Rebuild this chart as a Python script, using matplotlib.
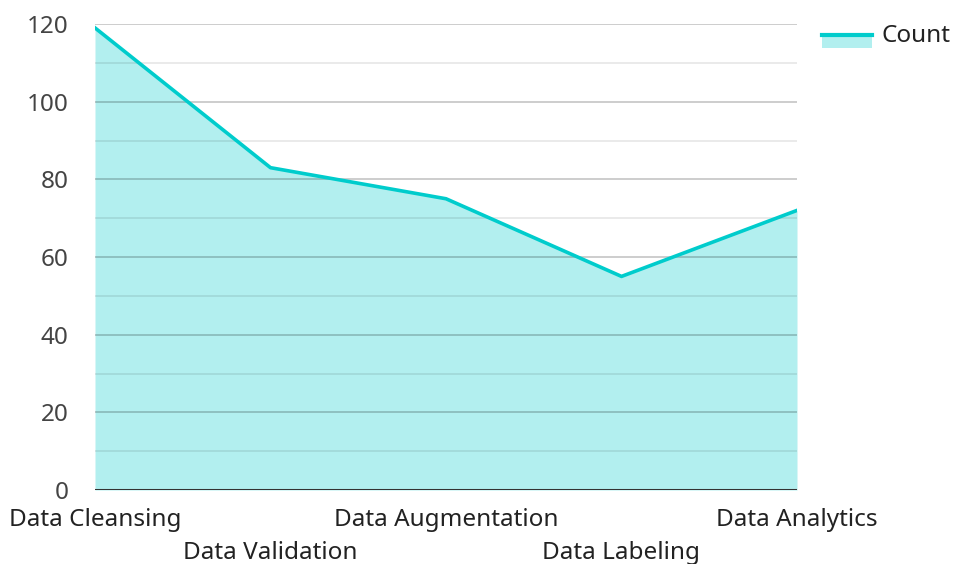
import matplotlib
matplotlib.use("Agg")
import matplotlib.pyplot as plt
from matplotlib.patches import Rectangle
from matplotlib.lines import Line2D

categories = ["Data Cleansing", "Data Validation", "Data Augmentation",
              "Data Labeling", "Data Analytics"]
counts = [119, 83, 75, 55, 72]
yticks = [0, 20, 40, 60, 80, 100, 120]

LINE_C, FILL_C = "#00cccc", "#b2efef"

plt.rcParams.update({"font.family": ["Noto Sans", "DejaVu Sans"], "font.size": 17.5})
fig = plt.figure(figsize=(9.54, 5.64), dpi=100)
ax = fig.add_axes([95 / 954, 74 / 564, 702 / 954, 466 / 564])

x = list(range(len(categories)))
ax.fill_between(x, counts, 0, color=FILL_C, lw=0, zorder=1)
ax.plot(x, counts, color=LINE_C, lw=2.6, zorder=3)

# grid: major every 20, minor every 10, drawn over the fill
for v in range(10, 121, 10):
    major = v % 20 == 0
    ax.axhline(v, color="#000000", alpha=0.21 if major else 0.09, lw=1.3, zorder=2)
ax.axhline(0, color="#333333", lw=2.2, zorder=4)

ax.set_xlim(0, len(categories) - 1)
ax.set_ylim(0, 120)
ax.set_yticks(yticks)
ax.set_yticklabels([str(v) for v in yticks], color="#444444")
ax.set_xticks(x)
ax.set_xticklabels(categories, color="#222222")
ax.tick_params(axis="both", length=0)
ax.tick_params(axis="y", pad=19)
for i, t in enumerate(ax.xaxis.get_major_ticks()):
    t.set_pad(13 if i % 2 == 0 else 37)
for s in ax.spines.values():
    s.set_visible(False)

# legend: swatch with line on top of fill
fig.patches.append(Rectangle((822 / 954, 1 - 48 / 564), 50 / 954, 14 / 564,
                             transform=fig.transFigure, color=FILL_C, lw=0))
fig.lines.append(Line2D([822 / 954, 872 / 954], [1 - 35 / 564, 1 - 35 / 564],
                        transform=fig.transFigure, color=LINE_C, lw=3))
fig.text(882 / 954, 1 - 36 / 564, "Count", va="center", ha="left", color="#222222")

fig.savefig("out.png", dpi=100)
